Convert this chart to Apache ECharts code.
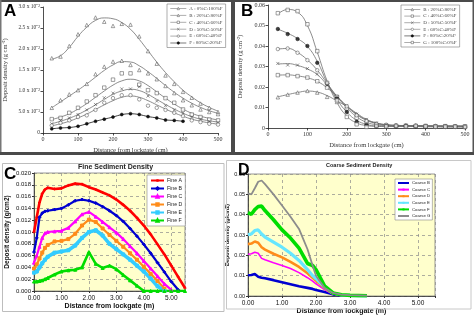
<!DOCTYPE html>
<html><head><meta charset="utf-8">
<script src="https://cdn.jsdelivr.net/npm/echarts@6/dist/echarts.min.js"></script>
<style>html,body{margin:0;padding:0;background:#fff}#c{width:474px;height:322px}</style>
</head><body><div id="c"></div><script>
// ---- Panel A: deposit density vs distance, fitted curves and measured points (units of 1e-2 g/cm2)
const distA = [25,50,75,100,125,150,175,200,225,250,275,300,325,350,375,400,425,450,475,500];
const namesA = ['A : 0%C:100%F','B : 20%C:80%F','C : 40%C:60%F','D : 50%C:50%F','E : 60%C:40%F','F : 80%C:20%F'];
const fitA_A = [1.76,1.84,2.04,2.30,2.52,2.68,2.74,2.72,2.63,2.47,2.23,1.96,1.69,1.44,1.22,1.02,0.86,0.72,0.61,0.52];
const ptsA_A = [1.78,1.82,2.07,2.35,2.57,2.75,2.65,2.55,2.60,2.58,2.30,1.95,1.65,1.37,1.17,0.98,0.84,0.70,0.60,0.50];
const fitA_B = [0.60,0.74,0.88,1.02,1.17,1.33,1.49,1.62,1.70,1.69,1.60,1.46,1.30,1.13,0.97,0.83,0.71,0.61,0.53,0.47];
const ptsA_B = [0.60,0.78,0.92,1.02,1.17,1.40,1.58,1.70,1.72,1.62,1.50,1.42,1.28,1.12,0.95,0.78,0.66,0.56,0.50,0.45];
const fitA_C = [0.32,0.38,0.46,0.57,0.70,0.85,1.00,1.14,1.24,1.28,1.24,1.13,0.98,0.83,0.69,0.57,0.47,0.40,0.35,0.31];
const ptsA_C = [0.33,0.36,0.48,0.60,0.75,0.90,1.08,1.27,1.42,1.42,1.15,1.02,0.95,0.83,0.72,0.56,0.44,0.38,0.32,0.30];
const fitA_D = [0.22,0.28,0.35,0.44,0.55,0.67,0.80,0.92,1.00,1.04,1.01,0.92,0.80,0.68,0.57,0.47,0.39,0.33,0.29,0.26];
const ptsA_D = [0.22,0.30,0.36,0.44,0.55,0.68,0.84,0.95,1.05,1.05,1.10,0.88,0.76,0.65,0.55,0.48,0.38,0.33,0.28,0.25];
const fitA_E = [0.17,0.22,0.28,0.36,0.45,0.56,0.67,0.77,0.85,0.88,0.85,0.77,0.67,0.57,0.48,0.40,0.33,0.28,0.24,0.21];
const ptsA_E = [0.18,0.24,0.30,0.38,0.42,0.55,0.72,0.83,0.90,0.90,0.80,0.65,0.60,0.55,0.48,0.40,0.30,0.26,0.22,0.20];
const ptsA_F = [0.10,0.12,0.13,0.16,0.22,0.28,0.33,0.38,0.44,0.46,0.44,0.39,0.36,0.31,0.30,0.28];
const yLabelsA = ['0','5.0 x 10\u207B\u00B3','1.0 x 10\u207B\u00B2','1.5 x 10\u207B\u00B2','2.0 x 10\u207B\u00B2','2.5 x 10\u207B\u00B2','3.0 x 10\u207B\u00B2'];

// ---- Panel B: same distances, g/cm2
const distB = distA;
const namesB = ['B : 20%C:80%F','C : 40%C:60%F','D : 50%C:50%F','E : 60%C:40%F','F : 80%C:20%F','G : 100%C:0%F'];
const fitB_B = [0.0152,0.0163,0.0173,0.0180,0.0175,0.0158,0.0132,0.0105,0.0072,0.0042,0.0025,0.0016,0.0013,0.0012,0.0012,0.0011,0.0011,0.0010,0.0010,0.0010];
const ptsB_B = [0.0150,0.0163,0.0173,0.0181,0.0173,0.0152,0.0127,0.0103,0.0067,0.0038,0.0022,0.0015,0.0014,0.0012,0.0013,0.0011,0.0010,0.0010,0.0009,0.0009];
const fitB_C = [0.0258,0.0259,0.0254,0.0245,0.0227,0.0196,0.0152,0.0098,0.0055,0.0028,0.0016,0.0012,0.0011,0.0010,0.0010,0.0010,0.0009,0.0009,0.0009,0.0008];
const ptsB_C = [0.0258,0.0258,0.0253,0.0246,0.0228,0.0197,0.0152,0.0095,0.0050,0.0025,0.0015,0.0012,0.0010,0.0011,0.0009,0.0010,0.0008,0.0009,0.0008,0.0008];
const fitB_D = [0.0312,0.0314,0.0305,0.0288,0.0260,0.0210,0.0155,0.0108,0.0068,0.0040,0.0024,0.0016,0.0013,0.0012,0.0011,0.0011,0.0010,0.0010,0.0009,0.0009];
const ptsB_D = [0.0315,0.0307,0.0307,0.0290,0.0263,0.0209,0.0152,0.0110,0.0067,0.0042,0.0025,0.0015,0.0012,0.0013,0.0010,0.0011,0.0009,0.0010,0.0008,0.0008];
const fitB_E = [0.0385,0.0388,0.0368,0.0332,0.0282,0.0218,0.0155,0.0105,0.0065,0.0038,0.0022,0.0015,0.0012,0.0011,0.0010,0.0010,0.0009,0.0009,0.0008,0.0008];
const ptsB_E = [0.0385,0.0388,0.0367,0.0331,0.0282,0.0217,0.0152,0.0106,0.0062,0.0034,0.0020,0.0016,0.0013,0.0011,0.0011,0.0009,0.0010,0.0008,0.0008,0.0007];
const fitB_F = [0.0482,0.0462,0.0436,0.0398,0.0325,0.0222,0.0140,0.0078,0.0038,0.0018,0.0010,0.0009,0.0008,0.0008,0.0008,0.0007,0.0007,0.0006,0.0006,0.0006];
const ptsB_F = [0.0483,0.0458,0.0434,0.0400,0.0318,0.0217,0.0144,0.0078,0.0030,0.0015,0.0008,0.0010,0.0008,0.0010,0.0008,0.0006,0.0005,0.0005,0.0005,0.0004];
const fitB_G = [0.0555,0.0578,0.0565,0.0500,0.0370,0.0230,0.0125,0.0058,0.0025,0.0012,0.0008,0.0007,0.0007,0.0007,0.0007,0.0006,0.0006,0.0005,0.0005,0.0005];
const ptsB_G = [0.0560,0.0576,0.0570,0.0506,0.0375,0.0220,0.0135,0.0054,0.0018,0.0005,0.0010,0.0008,0.0010,0.0008,0.0010,0.0008,0.0006,0.0006,0.0006,0.0005];

// ---- Panel C: fine sediment density, distance in m
const distC = [0,0.1,0.2,0.3,0.4,0.5,0.75,1.0,1.25,1.5,1.75,2.0,2.25,2.5,2.75,3.0,3.25,3.5,3.75,4.0,4.25,4.5,4.75,5.0,5.25,5.5];
const namesC = ['Fine A','Fine B','Fine C','Fine D','Fine E','Fine F'];
const fineA = [0.0100,0.0125,0.0150,0.0165,0.0172,0.0175,0.0173,0.0174,0.0179,0.0182,0.0181,0.0176,0.0172,0.0167,0.0162,0.0155,0.0146,0.0136,0.0124,0.0111,0.0096,0.0079,0.0062,0.0043,0.0024,0.0005];
const fineB = [0.0066,0.0090,0.0125,0.0132,0.0135,0.0136,0.0138,0.0140,0.0146,0.0153,0.0155,0.0153,0.0149,0.0143,0.0136,0.0128,0.0118,0.0106,0.0093,0.0079,0.0064,0.0048,0.0032,0.0016,0.0002,null];
const fineC = [0.0048,0.0060,0.0075,0.0090,0.0098,0.0100,0.0101,0.0102,0.0107,0.0118,0.0130,0.0134,0.0126,0.0117,0.0108,0.0099,0.0088,0.0076,0.0064,0.0051,0.0038,0.0025,0.0012,0.0002,null,null];
const fineD = [0.0038,0.0045,0.0055,0.0065,0.0073,0.0078,0.0084,0.0085,0.0088,0.0097,0.0111,0.0121,0.0117,0.0106,0.0095,0.0085,0.0075,0.0064,0.0053,0.0041,0.0029,0.0017,0.0004,null,null,null];
const fineE = [0.0031,0.0033,0.0040,0.0047,0.0053,0.0058,0.0065,0.0067,0.0069,0.0077,0.0090,0.0100,0.0103,0.0094,0.0080,0.0071,0.0062,0.0053,0.0043,0.0033,0.0021,0.0008,0.0000,null,null,null];
const fineF = [0.0016,0.0016,0.0017,0.0018,0.0020,0.0022,0.0028,0.0033,0.0035,0.0036,0.0040,0.0066,0.0046,0.0039,0.0043,0.0037,0.0027,0.0018,0.0009,0.0000,0,0,0,0,0,0];

// ---- Panel D: coarse sediment density, distance in m
const distD = [0,0.1,0.2,0.3,0.4,0.5,0.75,1.0,1.25,1.5,1.75,1.9,2.0,2.25,2.5,2.75,3.0,3.25,3.5];
const namesD = ['Coarse B','Coarse C','Coarse D','Coarse E','Coarse F','Coarse G'];
const coarseB = [0.0102,0.0103,0.0108,0.0095,0.0090,0.0087,0.0078,0.0068,0.0058,0.0048,0.0040,0.0035,0.0030,0.0020,0.0008,0.0003,0.0001,0.0001,0.0000];
const coarseC = [0.0205,0.0208,0.0215,0.0210,0.0185,0.0178,0.0163,0.0150,0.0135,0.0115,0.0090,0.0073,0.0060,0.0032,0.0010,0.0004,0.0002,0.0001,0.0000];
const coarseD = [0.0255,0.0258,0.0268,0.0262,0.0240,0.0228,0.0208,0.0190,0.0168,0.0143,0.0112,0.0090,0.0075,0.0040,0.0012,0.0004,0.0002,0.0001,0.0001];
const coarseE = [0.0302,0.0305,0.0322,0.0325,0.0305,0.0290,0.0265,0.0240,0.0210,0.0175,0.0130,0.0100,0.0085,0.0045,0.0015,0.0005,0.0003,0.0002,0.0001];
const coarseF = [0.0410,0.0402,0.0425,0.0440,0.0442,0.0420,0.0375,0.0325,0.0285,0.0235,0.0160,0.0150,0.0130,0.0050,0.0015,0.0006,0.0003,0.0002,0.0001];
const coarseG = [0.0505,0.0500,0.0530,0.0562,0.0568,0.0550,0.0500,0.0445,0.0390,0.0330,0.0230,0.0150,0.0100,0.0040,0.0015,0.0007,0.0004,0.0003,0.0002];

function pairs(xs, ys) {
  const out = [];
  ys.forEach((y, i) => { if (y !== null && y !== undefined) out.push([xs[i], y]); });
  return out;
}

const SERIF = 'Liberation Serif';
const SANS = 'Liberation Sans';
const crossPath = 'path://M0,0L10,10M10,0L0,10';

// marker styles for the serif panels, keyed by the series letter
const markA = {
  A: { symbol: 'triangle', fill: '#fff', stroke: '#555' },
  B: { symbol: 'triangle', fill: '#fff', stroke: '#555' },
  C: { symbol: 'rect', fill: '#fff', stroke: '#555' },
  D: { symbol: crossPath, fill: 'none', stroke: '#444' },
  E: { symbol: 'circle', fill: '#fff', stroke: '#555' },
  F: { symbol: 'circle', fill: '#111', stroke: '#111' },
  G: { symbol: 'rect', fill: '#fff', stroke: '#555' }
};

const series = [];

function addFitted(grid, name, xs, fit, pts, size) {
  const m = markA[name[0]];
  series.push({
    type: 'line', name, xAxisIndex: grid, yAxisIndex: grid, smooth: 0.5,
    data: pairs(xs, fit), showSymbol: false, symbol: m.symbol, symbolSize: size,
    lineStyle: { color: '#6e6e6e', width: 0.8 },
    itemStyle: { color: m.fill, borderColor: m.stroke, borderWidth: 0.7 },
    silent: true, animation: false, z: 2
  });
  series.push({
    type: 'scatter', name, xAxisIndex: grid, yAxisIndex: grid,
    data: pairs(xs, pts), symbol: m.symbol, symbolSize: size,
    itemStyle: { color: m.fill, borderColor: m.stroke, borderWidth: 0.7 },
    silent: true, animation: false, z: 3
  });
}

addFitted(0, namesA[0], distA, fitA_A, ptsA_A, 3.5);
addFitted(0, namesA[1], distA, fitA_B, ptsA_B, 3.5);
addFitted(0, namesA[2], distA, fitA_C, ptsA_C, 3.5);
addFitted(0, namesA[3], distA, fitA_D, ptsA_D, 3);
addFitted(0, namesA[4], distA, fitA_E, ptsA_E, 3.5);
series.push({
  type: 'line', name: namesA[5], xAxisIndex: 0, yAxisIndex: 0, smooth: 0.3,
  data: pairs(distA, ptsA_F), symbol: 'circle', symbolSize: 3, showSymbol: true,
  lineStyle: { color: '#111', width: 0.8 },
  itemStyle: { color: '#111', borderColor: '#111', borderWidth: 0.5 },
  silent: true, animation: false, z: 3
});

const fitsB = [fitB_B, fitB_C, fitB_D, fitB_E, fitB_F, fitB_G];
const ptsB = [ptsB_B, ptsB_C, ptsB_D, ptsB_E, ptsB_F, ptsB_G];
namesB.forEach((n, i) => addFitted(1, n, distB, fitsB[i], ptsB[i], n[0] === 'D' ? 3 : 3.5));

const colC = ['#ff0000', '#0000d0', '#ff00ff', '#ff8c1a', '#33ccff', '#00dd00'];
const symC = ['path://M5,0L5,10M0,5L10,5', 'diamond', 'triangle', 'rect', 'rect', 'triangle'];
const widC = [2.6, 2.2, 2.2, 2.2, 3.6, 2.6];
[fineA, fineB, fineC, fineD, fineE, fineF].forEach((ys, i) => {
  series.push({
    type: 'line', name: namesC[i], xAxisIndex: 2, yAxisIndex: 2,
    data: pairs(distC, ys), symbol: symC[i], symbolSize: 3, showSymbol: true,
    lineStyle: { color: colC[i], width: widC[i] },
    itemStyle: { color: colC[i], borderColor: colC[i], borderWidth: 1 },
    silent: true, animation: false
  });
});

const colD = ['#0000d0', '#ff00ff', '#ff8c1a', '#66e6ff', '#00dd00', '#8c8c8c'];
const widD = [2.6, 1.6, 2.6, 3.2, 3.6, 1.8];
[coarseB, coarseC, coarseD, coarseE, coarseF, coarseG].forEach((ys, i) => {
  series.push({
    type: 'line', name: namesD[i], xAxisIndex: 3, yAxisIndex: 3,
    data: pairs(distD, ys), symbol: 'rect', symbolSize: 2, showSymbol: false,
    lineStyle: { color: colD[i], width: widD[i] },
    itemStyle: { color: colD[i] },
    silent: true, animation: false
  });
});

// legend entries for the serif panels carry their own marker look
function serifLegendData(names) {
  return names.map(n => {
    const dark = n[0] === 'F';
    return {
      name: n,
      itemStyle: { color: dark ? '#111' : '#fff', borderColor: dark ? '#111' : '#666', borderWidth: 0.6 },
      lineStyle: { color: dark ? '#222' : '#777', width: 0.6 }
    };
  });
}

// axes for the two serif panels
function serifX(grid) {
  return {
    gridIndex: grid, type: 'value', min: 0, max: 500, interval: 100,
    axisLine: { lineStyle: { color: '#222', width: 0.8 } },
    axisTick: { length: 2.5, lineStyle: { color: '#222', width: 0.8 } },
    axisLabel: { fontFamily: SERIF, fontSize: 6, color: '#333', margin: 3 },
    splitLine: { show: false },
    name: 'Distance from lockgate (cm)', nameLocation: 'middle', nameGap: 14,
    nameTextStyle: { fontFamily: SERIF, fontSize: 6.5, color: '#333' }
  };
}

function sansX(grid, nameGap) {
  return {
    gridIndex: grid, type: 'value', min: 0, max: 5.5, interval: 1,
    axisLine: { lineStyle: { color: '#333', width: 0.8 } },
    axisTick: { length: 2, lineStyle: { color: '#333' } },
    axisLabel: { fontFamily: SANS, fontSize: 6.5, color: '#111', margin: 4,
      formatter: v => (Math.abs(v - Math.round(v)) < 1e-9 ? v.toFixed(2) : '') },
    splitLine: { show: true, lineStyle: { color: '#8a8a8a', type: [3, 3], width: 0.7 } },
    name: 'Distance from lockgate (m)', nameLocation: 'middle', nameGap: nameGap,
    nameTextStyle: { fontFamily: SANS, fontSize: 7, fontWeight: 'bold', color: '#111' }
  };
}

const option = {
  animation: false,
  backgroundColor: '#fff',
  grid: [
    { left: 43, top: 7, width: 175, height: 126 },
    { left: 268, top: 5, width: 197, height: 123 },
    { left: 34, top: 173, width: 151, height: 118, show: true, backgroundColor: '#ffffcc', borderColor: '#7f7f7f', borderWidth: 0.8 },
    { left: 248, top: 174, width: 187, height: 122, show: true, backgroundColor: '#ffffcc', borderColor: '#7f7f7f', borderWidth: 0.8 }
  ],
  xAxis: [serifX(0), serifX(1), sansX(2, 12), sansX(3, 8)],
  yAxis: [
    {
      gridIndex: 0, type: 'value', min: 0, max: 3, interval: 0.5,
      axisLine: { show: true, lineStyle: { color: '#222', width: 0.8 } },
      axisTick: { show: true, length: 2.5, lineStyle: { color: '#222', width: 0.8 } },
      axisLabel: { fontFamily: SERIF, fontSize: 5.5, color: '#333', margin: 3,
        formatter: v => yLabelsA[Math.round(v / 0.5)] },
      splitLine: { show: false },
      name: 'Deposit density (g cm\u207B\u00B2)', nameLocation: 'middle', nameRotate: 90, nameGap: 34,
      nameTextStyle: { fontFamily: SERIF, fontSize: 6.5, color: '#333' }
    },
    {
      gridIndex: 1, type: 'value', min: 0, max: 0.06, interval: 0.01,
      axisLine: { show: true, lineStyle: { color: '#222', width: 0.8 } },
      axisTick: { show: true, length: 2.5, lineStyle: { color: '#222', width: 0.8 } },
      axisLabel: { fontFamily: SERIF, fontSize: 6, color: '#333', margin: 3,
        formatter: v => (v === 0 ? '0' : v.toFixed(2)) },
      splitLine: { show: false },
      name: 'Deposit density (g cm\u207B\u00B2)', nameLocation: 'middle', nameRotate: 90, nameGap: 24,
      nameTextStyle: { fontFamily: SERIF, fontSize: 6.5, color: '#333' }
    },
    {
      gridIndex: 2, type: 'value', min: 0, max: 0.02, interval: 0.002,
      axisLine: { show: true, lineStyle: { color: '#333', width: 0.8 } },
      axisTick: { show: true, length: 2, lineStyle: { color: '#333' } },
      axisLabel: { fontFamily: SANS, fontSize: 6, color: '#111', margin: 3,
        formatter: v => v.toFixed(3) },
      splitLine: { show: true, lineStyle: { color: '#8a8a8a', type: [3, 3], width: 0.7 } },
      name: 'Deposit density (g/cm2)', nameLocation: 'middle', nameRotate: 90, nameGap: 23,
      nameTextStyle: { fontFamily: SANS, fontSize: 6.5, fontWeight: 'bold', color: '#111' }
    },
    {
      gridIndex: 3, type: 'value', min: 0, max: 0.06, interval: 0.01,
      axisLine: { show: true, lineStyle: { color: '#333', width: 0.8 } },
      axisTick: { show: true, length: 2, lineStyle: { color: '#333' } },
      axisLabel: { fontFamily: SANS, fontSize: 5.5, color: '#111', margin: 3,
        formatter: v => v.toFixed(2) },
      splitLine: { show: true, lineStyle: { color: '#8a8a8a', type: [3, 3], width: 0.7 } },
      name: 'Deposit density (g/cm2)', nameLocation: 'middle', nameRotate: 90, nameGap: 17,
      nameTextStyle: { fontFamily: SANS, fontSize: 5.5, fontWeight: 'bold', color: '#111' }
    }
  ],
  legend: [
    {
      data: serifLegendData(namesA), left: 167, top: 4, orient: 'vertical', itemWidth: 16, itemHeight: 3, itemGap: 1.9,
      padding: [2, 3, 2, 3], borderColor: '#777', borderWidth: 0.6, backgroundColor: '#fff',
      textStyle: { fontFamily: SERIF, fontSize: 5, color: '#444', padding: [0, 0, 0, -2] },
      selectedMode: false
    },
    {
      data: serifLegendData(namesB), left: 401, top: 5, orient: 'vertical', itemWidth: 16, itemHeight: 3, itemGap: 1.6,
      padding: [2, 3, 2, 3], borderColor: '#777', borderWidth: 0.6, backgroundColor: '#fff',
      textStyle: { fontFamily: SERIF, fontSize: 5, color: '#444', padding: [0, 0, 0, -2] },
      selectedMode: false
    },
    {
      data: namesC, left: 147, top: 175, orient: 'vertical', itemWidth: 13, itemHeight: 3, itemGap: 3,
      padding: [3, 3, 3, 3], borderColor: '#888', borderWidth: 0.6, backgroundColor: '#fff',
      textStyle: { fontFamily: SANS, fontSize: 5.2, color: '#222', padding: [0, 0, 0, -2] },
      selectedMode: false
    },
    {
      data: namesD, left: 395, top: 179, orient: 'vertical', itemWidth: 11, itemHeight: 2.5, itemGap: 2.6,
      padding: [2, 2, 2, 2], borderColor: '#888', borderWidth: 0.6, backgroundColor: '#fff',
      textStyle: { fontFamily: SANS, fontSize: 4.3, color: '#222', padding: [0, 0, 0, -2] },
      selectedMode: false
    }
  ],
  graphic: [
    // frames around the upper pair of panels
    { type: 'rect', shape: { x: 0, y: 0, width: 474, height: 2 }, style: { fill: '#4a4a4a' }, z: 100 },
    { type: 'rect', shape: { x: 0, y: 0, width: 1.5, height: 155 }, style: { fill: '#777' }, z: 100 },
    { type: 'rect', shape: { x: 231, y: 0, width: 4, height: 155 }, style: { fill: '#4a4a4a' }, z: 100 },
    { type: 'rect', shape: { x: 472.5, y: 0, width: 1.5, height: 155 }, style: { fill: '#555' }, z: 100 },
    { type: 'rect', shape: { x: 0, y: 152, width: 474, height: 3 }, style: { fill: '#4a4a4a' }, z: 100 },
    // thin boxes around the lower pair
    { type: 'rect', shape: { x: 2.5, y: 163.5, width: 221.5, height: 148 }, style: { fill: 'none', stroke: '#bdbdbd', lineWidth: 1 }, z: 100 },
    { type: 'rect', shape: { x: 226.5, y: 160.5, width: 244.5, height: 148.5 }, style: { fill: 'none', stroke: '#c8c8c8', lineWidth: 1 }, z: 100 },
    // panel titles and letters
    { type: 'text', left: 78, top: 164, style: { text: 'Fine Sediment Density', font: 'bold 7px "Liberation Sans"', fill: '#222' }, z: 100 },
    { type: 'text', left: 326, top: 162, style: { text: 'Coarse Sediment Density', font: 'bold 5.5px "Liberation Sans"', fill: '#222' }, z: 100 },
    { type: 'text', left: 4, top: 3, style: { text: 'A', font: 'bold 17px "Liberation Sans"', fill: '#000' }, z: 101 },
    { type: 'text', left: 241, top: 3, style: { text: 'B', font: 'bold 17px "Liberation Sans"', fill: '#000' }, z: 101 },
    { type: 'text', left: 4, top: 166, style: { text: 'C', font: 'bold 17px "Liberation Sans"', fill: '#000' }, z: 101 },
    { type: 'text', left: 238, top: 163, style: { text: 'D', font: 'bold 16px "Liberation Sans"', fill: '#000' }, z: 101 }
  ],
  series
};

const chart = echarts.init(document.getElementById('c'), null, { renderer: 'canvas' });
chart.setOption(option);
</script></body></html>
